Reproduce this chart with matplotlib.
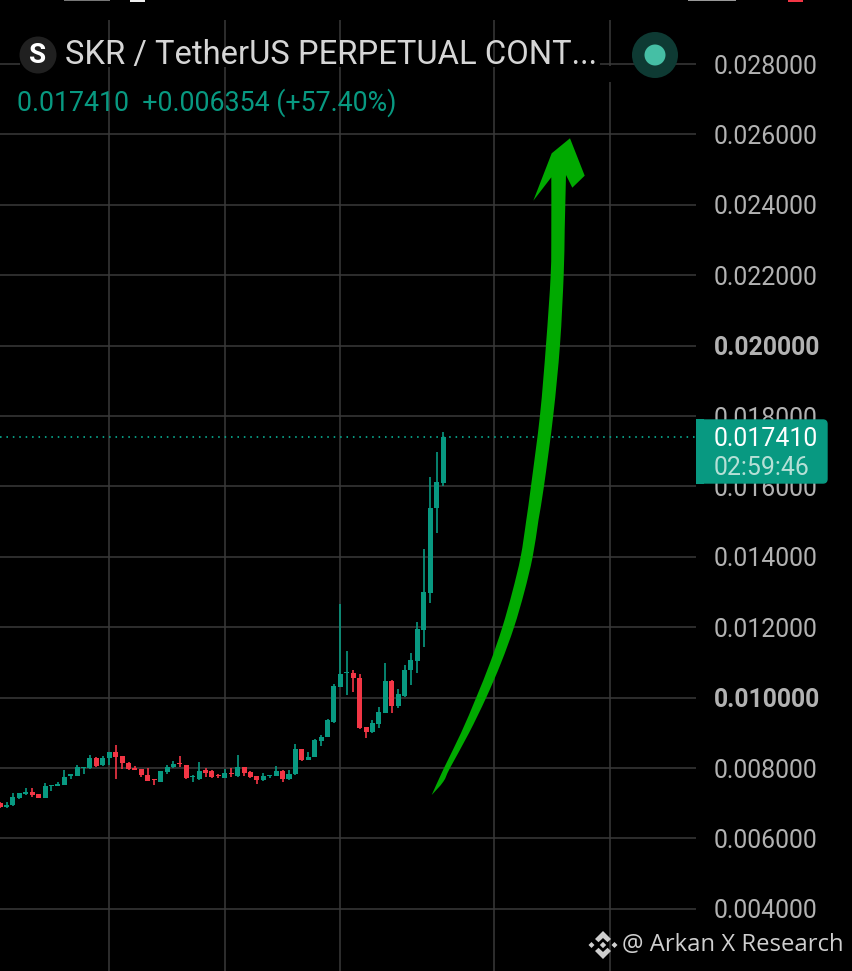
import numpy as np
import matplotlib
matplotlib.use('Agg')
import matplotlib.pyplot as plt
from matplotlib.patches import Circle, Polygon, Rectangle, FancyBboxPatch, PathPatch
from matplotlib.path import Path

# candle values in millionths of USDT
open_ = [7015, 6883, 6949, 7148, 7261, 7318, 7261, 7157, 7489, 7498,
         7526, 7782, 7782, 8000, 7991, 8284, 8076, 8275, 8445, 8341,
         8142, 8000, 7962, 7801, 7678, 7612, 7886, 8019, 8152, 8076,
         7735, 7697, 7943, 7905, 7811, 7725, 7858, 7773, 8019, 7886,
         7773, 7659, 7782, 7773, 7905, 7697, 7820, 8540, 8227, 8322,
         8767, 8871, 9307, 10301, 10689, 10699, 10566, 9155, 9013, 9241,
         9563, 10472, 9761, 10055, 10775, 11040, 11920, 12980, 15386, 16100]
high = [7044, 7025, 7280, 7280, 7422, 7422, 7261, 7564, 7517, 7602,
        7934, 7820, 8076, 8038, 8369, 8303, 8341, 8464, 8644, 8350,
        8161, 8057, 7962, 8000, 7678, 7924, 8076, 8189, 8341, 8085,
        7801, 8170, 8009, 7943, 7839, 7962, 7991, 8360, 8028, 7905,
        7773, 7858, 7811, 8057, 7934, 7934, 8672, 8540, 8445, 8824,
        8928, 9402, 10396, 12650, 11333, 10794, 10661, 9155, 9354, 9724,
        10974, 10510, 10254, 10936, 11258, 12138, 14213, 16258, 16977, 17537]
low = [6864, 6864, 6920, 7119, 7233, 7176, 7157, 7157, 7356, 7489,
       7526, 7697, 7773, 7830, 7972, 8019, 8066, 8085, 7687, 7972,
       7943, 7934, 7744, 7631, 7517, 7612, 7839, 8009, 8038, 7687,
       7612, 7659, 7744, 7725, 7706, 7716, 7744, 7754, 7782, 7725,
       7545, 7631, 7706, 7773, 7612, 7669, 7811, 8199, 8227, 8313,
       8616, 8871, 9288, 10292, 10064, 10159, 9108, 8843, 8994, 9127,
       9553, 9553, 9705, 10008, 10358, 10699, 11430, 12696, 14685, 16020]
close = [6883, 6958, 7167, 7280, 7318, 7233, 7157, 7489, 7517, 7555,
         7744, 7820, 8019, 8038, 8284, 8066, 8294, 8445, 8322, 8133,
         7962, 7953, 7811, 7640, 7650, 7905, 8019, 8114, 8123, 7706,
         7773, 7924, 7858, 7744, 7773, 7858, 7820, 8019, 7867, 7744,
         7659, 7773, 7811, 7915, 7697, 7839, 8540, 8227, 8313, 8795,
         8890, 9354, 10320, 10680, 10718, 10547, 9127, 9013, 9288, 9581,
         10481, 9752, 10093, 10794, 11059, 11940, 13000, 15395, 16134, 17410]

price_ticks = [0.004, 0.006, 0.008, 0.010, 0.012, 0.014, 0.016,
               0.018, 0.020, 0.022, 0.024, 0.026, 0.028]
bold_ticks = ['0.010000', '0.020000']
grid_candles = [17, 35, 53, 77, 95]
last_price = 0.017410

title = 'SKR / TetherUS PERPETUAL CONT...'
quote_line = '0.017410  +0.006354 (+57.40%)'
countdown = '02:59:46'
watermark = '@ Arkan X Research'

# hand drawn arrow outline, in image pixels
arrow_left = [(431.7, 795), (444, 768), (461, 733), (476, 698), (490, 663), (502.3, 627.3),
              (512.3, 592), (520.7, 556.7), (526.3, 520), (531, 486), (540, 415), (546, 344.7),
              (550.7, 274.7), (551.3, 230), (551.3, 177.3)]
arrow_head = [(533.3, 200.7), (551.7, 153.3), (570, 138.3), (584.7, 175.7),
              (572.3, 187.7), (566, 175)]
arrow_right = [(566, 175), (564.7, 230), (563.7, 274.7), (560, 344.7), (553.3, 415),
               (544, 486), (538.5, 520), (532.7, 556.7), (524.3, 592), (514, 627.3), (501, 663),
               (486, 698), (469, 733), (450, 768), (443.3, 781.7), (431.7, 795)]

GREEN = '#089981'
RED = '#F23645'
GRID = '#3a3a3a'
LABEL = '#b2b2b2'


def smooth_edge(points):
    # catmull-rom through the traced points, returned as bezier segments
    pts = np.array(points, dtype=float)
    verts, codes = [], []
    for i in range(len(pts) - 1):
        p0 = pts[max(i - 1, 0)]
        p1, p2 = pts[i], pts[i + 1]
        p3 = pts[min(i + 2, len(pts) - 1)]
        verts += [p1 + (p2 - p0) / 6, p2 - (p3 - p1) / 6, p2]
        codes += [Path.CURVE4] * 3
    return verts, codes


plt.rcParams['font.family'] = ['Roboto', 'DejaVu Sans']

W, H = 852, 971
fig = plt.figure(figsize=(W / 100, H / 100), dpi=100, facecolor='black')
ax = fig.add_axes([0, 0, 696 / W, (H - 20) / H], facecolor='black')

o = np.array(open_) / 1e6
h = np.array(high) / 1e6
l = np.array(low) / 1e6
c = np.array(close) / 1e6
idx = np.arange(len(o))
colors = [GREEN if ci >= oi else RED for oi, ci in zip(o, c)]

ax.vlines(idx, l, h, colors=colors, linewidth=1.2, zorder=3)
ax.bar(idx, np.maximum(np.abs(c - o), 3e-5), bottom=np.minimum(o, c), width=0.78,
       color=colors, linewidth=0, zorder=4)
ax.axhline(last_price, color=GREEN, linestyle=(0, (0.8, 2.5)), linewidth=1.4, zorder=2)

# 6.42 px per candle, 35.2 px per 0.001
ax.set_xlim(-0.1 / 6.42, (696 - 0.1) / 6.42)
ax.set_ylim(0.008 - (971 - 768) / 35200, 0.008 + (768 - 20) / 35200)

ax.set_xticks(grid_candles)
ax.set_yticks(price_ticks)
ax.set_yticklabels(['%.6f' % p for p in price_ticks])
ax.yaxis.tick_right()
ax.tick_params(axis='x', length=0, labelbottom=False)
ax.tick_params(axis='y', length=0, pad=13, labelsize=17.9, labelcolor=LABEL)
for lab in ax.get_yticklabels():
    if lab.get_text() in bold_ticks:
        lab.set_fontweight('bold')
ax.grid(True, color=GRID, linewidth=1.1, zorder=1)
ax.set_axisbelow(True)
for s in ax.spines.values():
    s.set_visible(False)

# everything laid over the chart is placed in image pixels
top = fig.add_axes([0, 0, 1, 1], facecolor='none')
top.set_xlim(0, W)
top.set_ylim(H, 0)
top.axis('off')

# the header hides part of the grid
top.add_patch(Rectangle((20, 61), 580, 6, color='black', linewidth=0))
top.add_patch(Rectangle((606, 66), 8, 16, color='black', linewidth=0))

# status bar remains at the very top
top.add_patch(Rectangle((130, 0), 15, 1.8, color='#eeeeee', linewidth=0))
top.add_patch(Rectangle((788, 0), 15, 1.8, color=RED, linewidth=0))
top.add_patch(Rectangle((64, 0), 46, 0.9, color='#777777', linewidth=0))
top.add_patch(Rectangle((688, 0), 48, 1.4, color='#999999', linewidth=0))

top.add_patch(Circle((38, 55), 18.5, color='#202020', linewidth=0))
top.text(38, 55.5, 'S', color='white', fontsize=20, fontweight='bold', ha='center', va='center')
top.text(65, 55, title, color='#d6d6d6', fontsize=23.6, ha='left', va='center')
top.text(17, 102.5, quote_line, color=GREEN, fontsize=19.3, ha='left', va='center')

top.add_patch(Circle((655, 55), 23, color='#0e3a33', linewidth=0))
top.add_patch(Circle((655, 55), 10.5, color='#45bfa5', linewidth=0))

# arrow: smooth left edge, straight head, smooth right edge
verts = [arrow_left[0]]
codes = [Path.MOVETO]
v, k = smooth_edge(arrow_left)
verts += v
codes += k
verts += arrow_head
codes += [Path.LINETO] * len(arrow_head)
v, k = smooth_edge(arrow_right)
verts += v
codes += k
top.add_patch(PathPatch(Path(verts, codes), facecolor='#00aa00', edgecolor='none', zorder=5))

top.add_patch(FancyBboxPatch((697, 420), 130, 63, boxstyle='round,pad=0,rounding_size=4',
                             color=GREEN, linewidth=1, zorder=6))
top.add_patch(Rectangle((696, 419), 8, 65, color=GREEN, linewidth=0, zorder=6))
top.text(714, 439, '%.6f' % last_price, color='white', fontsize=17.9, ha='left', va='center', zorder=7)
top.text(714, 468, countdown, color='#b5e0d6', fontsize=17.9, ha='left', va='center', zorder=7)

# exchange mark next to the watermark
mark = '#cfcfcf'
cx, cy = 603, 945
for dx in [-11.5, 11.5]:
    r = 3
    top.add_patch(Polygon([(cx + dx - r, cy), (cx + dx, cy - r), (cx + dx + r, cy), (cx + dx, cy + r)],
                          color=mark, linewidth=0, zorder=6))
for sgn in [-1, 1]:
    top.add_patch(Polygon([(cx, cy + sgn * 14), (cx + 8, cy + sgn * 6), (cx + 4.5, cy + sgn * 2.8),
                           (cx, cy + sgn * 7), (cx - 4.5, cy + sgn * 2.8), (cx - 8, cy + sgn * 6)],
                          color=mark, linewidth=0, zorder=6))
top.add_patch(Polygon([(cx, cy - 3.2), (cx + 3.2, cy), (cx, cy + 3.2), (cx - 3.2, cy)],
                      color=mark, linewidth=0, zorder=6))
top.text(622, 945, watermark, color='#cfcfcf', fontsize=17.2, family=['Open Sans', 'DejaVu Sans'],
         ha='left', va='center', zorder=6)

fig.savefig('out.png', dpi=100, facecolor='black')
